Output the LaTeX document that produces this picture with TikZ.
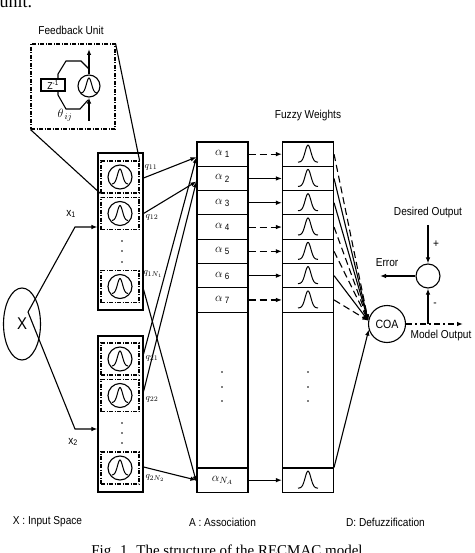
\documentclass[tikz,border=0pt]{standalone}
\usepackage{fontspec}
\setmainfont{Liberation Sans}[FakeStretch=0.88]
\newfontfamily\capfont{Liberation Serif}
\usetikzlibrary{arrows.meta,shapes.geometric}
\tikzset{
  arr/.style={-{Latex[length=6pt,width=4.5pt]}},
  ddot/.style={dash pattern=on 4pt off 1.5pt on 1pt off 1.5pt},
  ldash/.style={dash pattern=on 7pt off 4pt},
  gcirc/.style={circle,draw,minimum size=24pt,inner sep=0pt},
  dbox/.style={draw,ddot,minimum width=38pt,minimum height=32pt,inner sep=0pt},
  colbox/.style={draw,minimum width=45pt,inner sep=0pt},
  cell/.style={draw,minimum width=51pt,minimum height=24.3pt,inner sep=0pt,font=\fontsize{13}{15}\selectfont},
  lbl/.style={font=\fontsize{11.5}{13}\selectfont,inner sep=0pt},
  qlbl/.style={font=\fontsize{9.5}{10}\selectfont,inner sep=0pt},
  dotm/.style={circle,fill,inner sep=0pt,minimum size=1.8pt},
  bellS/.pic={\draw[line width=1pt] plot[domain=-1:1,samples=41,smooth] ({8*\x},{7-15*exp(-5*abs(\x)*abs(\x))});},
  bellW/.pic={\draw[line width=1pt] plot[domain=-1:1,samples=41,smooth] ({10*\x},{8-17*exp(-6*abs(\x)*abs(\x))});}
}
\begin{document}
\begin{tikzpicture}[x=1pt,y=-1pt,line width=1.1pt]
\useasboundingbox (0,0) rectangle (474,553);
\clip (0,0) rectangle (474,553);

% clipped texts at top and bottom (as in the reference)
\node[anchor=base west,inner sep=0pt,font=\capfont\fontsize{18}{20}\selectfont] (unit) at (-1,8) {unit.};
\node[anchor=base,inner sep=0pt,font=\capfont\fontsize{15}{17}\selectfont] (cap) at (227,555) {Fig. 1. The structure of the RECMAC model};

% Feedback unit
\node[lbl] (fbl) at (71,30) {Feedback Unit};
\node[draw,ddot,minimum width=84pt,minimum height=85pt,inner sep=0pt] (fb) at (73,86.5) {};
\node[gcirc,minimum size=22pt] (fc) at (89,86) {};
\pic at (fc) {bellS};
\node[draw,minimum width=24pt,minimum height=12pt,inner sep=0pt,font=\fontsize{10}{11}\selectfont] (zb) at (53,85) {Z\textsuperscript{-1}};
\coordinate (fin) at (89,121);
\coordinate (fout) at (89,49);
\draw[arr] (fin) -- (fc.south);
\draw[arr] (fc.north) -- (fout);
\draw (89,69) -- (81,61) -- (66,61) -- (58,74) -- (58,79);
\draw (58,91) -- (58,95) -- (66,109) -- (80,109) -- (88,100);
\node[inner sep=0pt,font=\fontsize{13}{14}\selectfont] (th) at (65,115) {$\theta_{\,ij}$};

% Column 1
\node[colbox,minimum height=157pt] (c1) at (120.5,231.5) {};
\node[dbox] (d11) at (120,177) {};
\node[dbox] (d12) at (120,213.5) {};
\node[dbox] (d13) at (120,286.5) {};
\foreach \n in {d11,d12,d13}{\node[gcirc] at (\n) {}; \pic at (\n) {bellS};}
\node[dotm] (p11) at (122,241) {};
\node[dotm] (p12) at (122,251) {};
\node[dotm] (p13) at (122,262) {};

% Column 2
\node[colbox,minimum height=156pt] (c2) at (120.5,414) {};
\node[dbox] (d21) at (120,359) {};
\node[dbox] (d22) at (120,395.5) {};
\node[dbox] (d23) at (120,468) {};
\foreach \n in {d21,d22,d23}{\node[gcirc] at (\n) {}; \pic at (\n) {bellS};}
\node[dotm] (p21) at (122,423) {};
\node[dotm] (p22) at (122,433) {};
\node[dotm] (p23) at (122,443) {};

% q labels
\node[qlbl] (q11) at (151,167) {$q_{11}$};
\node[qlbl] (q12) at (152,217) {$q_{12}$};
\node[qlbl] (q1n) at (153,274) {$q_{1N_1}$};
\node[qlbl] (q21) at (152,358) {$q_{21}$};
\node[qlbl] (q22) at (152,399) {$q_{22}$};
\node[qlbl] (q2n) at (155,478) {$q_{2N_2}$};

% Input space
\node[draw,ellipse,minimum width=37pt,minimum height=72pt,inner sep=0pt,font=\fontsize{17}{19}\selectfont] (X) at (22,324) {X};
\coordinate (xv) at (28,312);
\coordinate (xb1) at (75,227);
\coordinate (xb2) at (75,429);
\draw[arr] (xv) -- (xb1) -- (c1.west |- xb1);
\draw[arr] (xv) -- (xb2) -- (c2.west |- xb2);
\node[lbl] (x1) at (71,214) {x\textsubscript{1}};
\node[lbl] (x2) at (73,442) {x\textsubscript{2}};

% Association column
\node[cell] (a1) at (222.5,154.15) {$\alpha$\,\textsubscript{1}};
\node[cell] (a2) at (222.5,178.45) {$\alpha$\,\textsubscript{2}};
\node[cell] (a3) at (222.5,202.75) {$\alpha$\,\textsubscript{3}};
\node[cell] (a4) at (222.5,227.05) {$\alpha$\,\textsubscript{4}};
\node[cell] (a5) at (222.5,251.35) {$\alpha$\,\textsubscript{5}};
\node[cell] (a6) at (222.5,275.65) {$\alpha$\,\textsubscript{6}};
\node[cell] (a7) at (222.5,299.95) {$\alpha$\,\textsubscript{7}};
\node[cell,minimum height=155.9pt] (ag) at (222.5,390.05) {};
\node[cell] (aN) at (222.5,480.15) {$\alpha_{N_A}$};
\node[dotm] (ad1) at (222,372) {};
\node[dotm] (ad2) at (222,387) {};
\node[dotm] (ad3) at (222,401) {};

% Fuzzy weights column
\node[lbl] (fwl) at (308,116) {Fuzzy Weights};
\foreach \i/\yy in {1/154.15,2/178.45,3/202.75,4/227.05,5/251.35,6/275.65,7/299.95,N/480.15}{
  \node[cell] (w\i) at (308,\yy) {};
  \pic at (w\i) {bellW};
}
\node[cell,minimum height=155.9pt] (wg) at (308,390.05) {};
\node[dotm] (wd1) at (308,372) {};
\node[dotm] (wd2) at (308,387) {};
\node[dotm] (wd3) at (308,401) {};

% association -> weights
\draw[arr,ldash] (a1) -- (w1);
\draw[arr] (a2) -- (w2);
\draw[arr] (a3) -- (w3);
\draw[arr,ldash] (a4) -- (w4);
\draw[arr,ldash] (a5) -- (w5);
\draw[arr] (a6) -- (w6);
\draw[arr,ldash] (a7) -- (w7);
\draw[arr] (aN) -- (wN);

% receptive fields -> association
\draw[arr] ([yshift=-1pt]c1.east |- d11.east) -- ([yshift=-3pt]a1.west);
\draw[arr] (c1.east |- d12.east) -- ([yshift=-3pt]a2.west);
\draw[arr] ([yshift=-3pt]c1.east |- d13.east) -- ([yshift=-2pt]aN.west);
\draw[arr] ([yshift=5pt]c2.east |- d21.east) -- ([yshift=-3pt]a1.west);
\draw[arr] ([yshift=4pt]c2.east |- d22.east) -- ([yshift=-3pt]a2.west);
\draw[arr] ([yshift=1pt]c2.east |- d23.east) -- (aN.west);

% feedback unit zoom lines
\draw (fb.south west) -- (d11.south west);
\draw (fb.north east) -- (d11.north east);

% Defuzzification
\node[circle,draw,minimum size=37pt,inner sep=0pt,font=\fontsize{12}{13}\selectfont] (coa) at (387,324) {COA};
\draw[arr,ldash] (w1.east) -- (coa.170);
\draw[arr] (w2.east) -- (coa.170);
\draw[arr] (w3.east) -- (coa.170);
\draw[arr,ldash] (w4.east) -- (coa.170);
\draw[arr,ldash] (w5.east) -- (coa.170);
\draw[arr] (w6.east) -- (coa.170);
\draw[arr,ldash] (w7.east) -- (coa.170);
\draw[arr] (wN.north east) -- (coa.197);

\node[circle,draw,minimum size=24pt,inner sep=0pt] (sum) at (428,276) {};
\node[lbl] (dout) at (428,213) {Desired Output};
\draw[arr] ([yshift=-6pt]dout.south) -- (sum.north);
\node[lbl] (plus) at (436,244) {+};
\node[lbl] (minus) at (435,305) {-};
\coordinate (errtip) at (380,276);
\draw[arr] (sum.west) -- (errtip);
\node[lbl] (err) at (387,263) {Error};
\coordinate (motip) at (463,324);
\coordinate (jn) at (428,324);
\draw[arr,dash pattern=on 6pt off 3pt on 2pt off 3pt] (coa.east) -- (motip);
\draw[arr] (jn) -- (sum.south);
\node[lbl] (mout) at (441,336) {Model Output};

% bottom labels
\node[lbl] (lx) at (47.5,522) {X : Input Space};
\node[lbl] (la) at (222.5,522) {A : Association};
\node[lbl] (ld) at (385.5,522) {D: Defuzzification};
\end{tikzpicture}
\end{document}
